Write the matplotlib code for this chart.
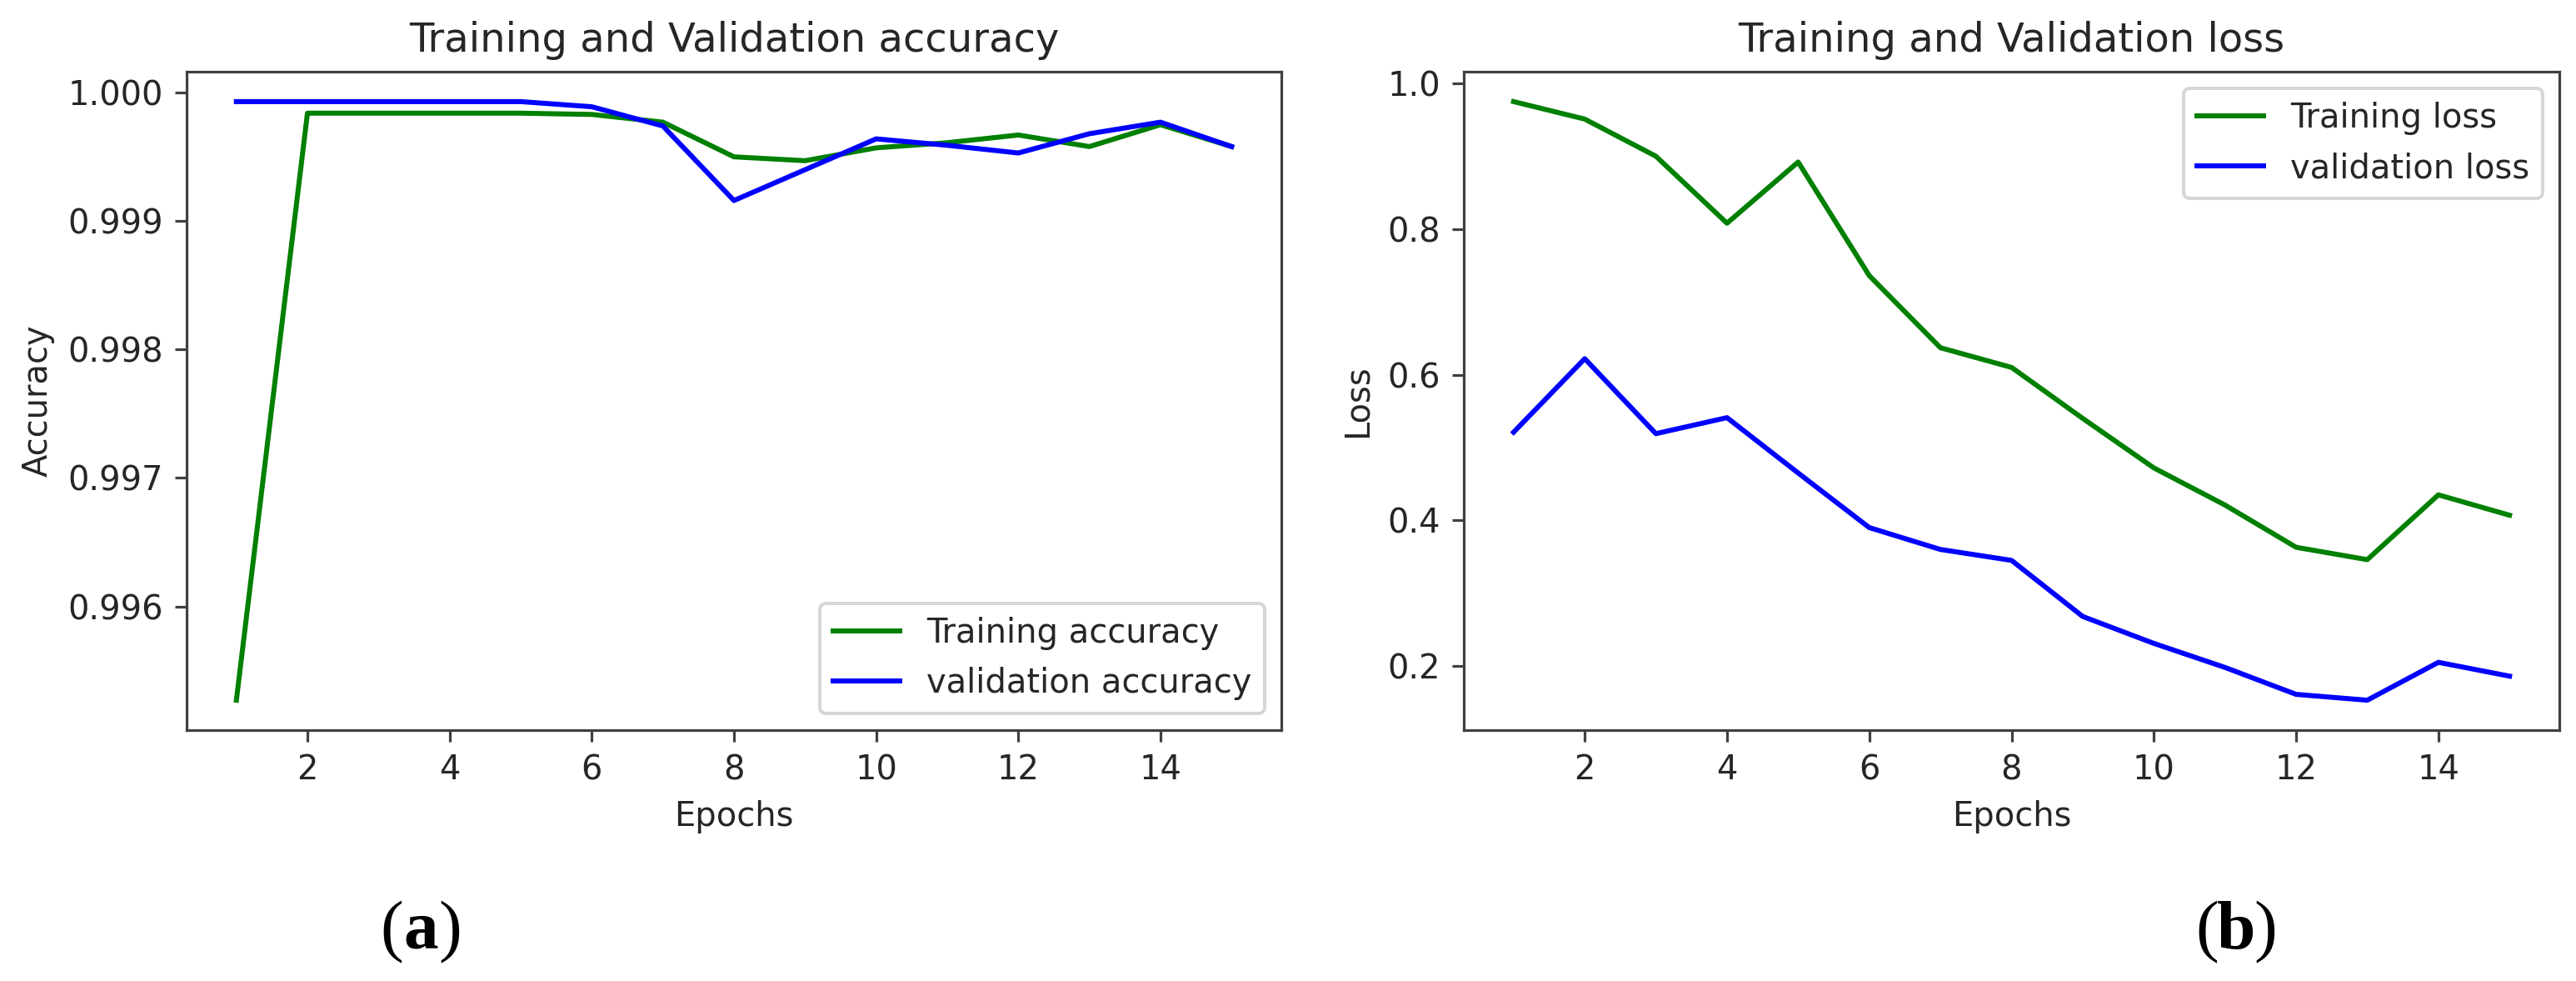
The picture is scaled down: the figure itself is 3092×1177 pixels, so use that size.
import matplotlib
matplotlib.use('Agg')
import matplotlib.pyplot as plt

# Data
epochs = list(range(1, 16))
train_acc = [0.99527, 0.99984, 0.99984, 0.99984, 0.99984, 0.99983, 0.99977, 0.99950,
             0.99947, 0.99957, 0.99961, 0.99967, 0.99958, 0.99975, 0.99958]
val_acc = [0.99993, 0.99993, 0.99993, 0.99993, 0.99993, 0.99989, 0.99974, 0.99916,
           0.99940, 0.99964, 0.99959, 0.99953, 0.99968, 0.99977, 0.99958]
train_loss = [0.975, 0.951, 0.900, 0.808, 0.892, 0.736, 0.637, 0.610,
              0.540, 0.472, 0.421, 0.363, 0.346, 0.435, 0.407]
val_loss = [0.521, 0.622, 0.519, 0.541, 0.465, 0.390, 0.360, 0.345,
            0.268, 0.231, 0.198, 0.161, 0.153, 0.205, 0.186]

# everything scaled up from a default-size matplotlib figure
s = 2.88
plt.rcParams.update({
    'font.family': 'DejaVu Sans',
    'font.size': 10 * s,
    'axes.linewidth': 0.8 * s,
    'axes.edgecolor': '#404040',
    'lines.linewidth': 1.5 * s,
    'xtick.major.size': 3.5 * s,
    'ytick.major.size': 3.5 * s,
    'xtick.major.width': 0.8 * s,
    'ytick.major.width': 0.8 * s,
    'xtick.major.pad': 3.5 * s,
    'ytick.major.pad': 3.5 * s,
    'xtick.color': '#404040',
    'ytick.color': '#404040',
    'xtick.labelcolor': '#262626',
    'ytick.labelcolor': '#262626',
    'axes.labelpad': 4 * s,
    'axes.titlepad': 6 * s,
    'text.color': '#262626',
    'axes.labelcolor': '#262626',
    'patch.linewidth': 1.0 * s,
})

W, H = 3092, 1177
fig = plt.figure(figsize=(W / 100, H / 100), dpi=100)
ax1 = fig.add_axes([224 / W, 1 - 876 / H, (1538 - 224) / W, (876 - 86) / H])
ax2 = fig.add_axes([1757 / W, 1 - 876 / H, (3072 - 1757) / W, (876 - 86) / H])

# accuracy
ax1.plot(epochs, train_acc, 'g', label='Training accuracy')
ax1.plot(epochs, val_acc, 'b', label='validation accuracy')
ax1.set_title('Training and Validation accuracy')
ax1.set_xlabel('Epochs')
ax1.set_ylabel('Accuracy')
ax1.set_xticks([2, 4, 6, 8, 10, 12, 14])
ax1.set_yticks([0.996, 0.997, 0.998, 0.999, 1.000])
ax1.set_yticklabels(['0.996', '0.997', '0.998', '0.999', '1.000'])
ax1.legend(loc='lower right')

# loss
ax2.plot(epochs, train_loss, 'g', label='Training loss')
ax2.plot(epochs, val_loss, 'b', label='validation loss')
ax2.set_title('Training and Validation loss')
ax2.set_xlabel('Epochs')
ax2.set_ylabel('Loss')
ax2.set_xticks([2, 4, 6, 8, 10, 12, 14])
ax2.set_yticks([0.2, 0.4, 0.6, 0.8, 1.0])
ax2.legend(loc='upper right')

# panel labels: thin parentheses around a bold letter
def panel_label(xc, letter):
    y = 1 - 1138 / H
    fig.text(xc / W, y, letter, ha='center', va='baseline',
             family='Liberation Serif', weight='bold', fontsize=60, color='black')
    fig.text((xc - 21) / W, y, '(', ha='right', va='baseline',
             family='Liberation Serif', fontsize=60, color='black')
    fig.text((xc + 21) / W, y, ')', ha='left', va='baseline',
             family='Liberation Serif', fontsize=60, color='black')

panel_label(505, 'a')
panel_label(2684, 'b')

fig.savefig('out.png', dpi=100, facecolor='white')
